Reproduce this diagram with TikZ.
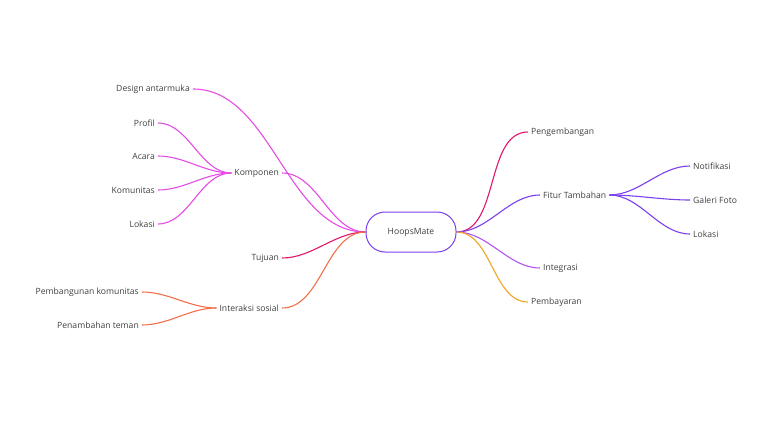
\documentclass[tikz,border=0pt]{standalone}
\usepackage{fontspec}
\setmainfont{Open Sans}
\begin{document}
\begin{tikzpicture}[x=1pt,y=-1pt,
  lbl/.style={font=\fontsize{8.6}{10}\selectfont, text=black!75, inner sep=3pt},
  br/.style={line width=1.1pt, out=0, in=180, looseness=0.9},
  bl/.style={line width=1.1pt, out=180, in=0, looseness=0.9}]
\fill[white] (0,0) rectangle (768,433);
\useasboundingbox (0,0) rectangle (768,433);
\definecolor{cmag}{HTML}{E64CE6}
\definecolor{ccri}{HTML}{E0176B}
\definecolor{cora}{HTML}{F2704A}
\definecolor{cpur}{HTML}{7B3FF0}
\definecolor{clil}{HTML}{B455F0}
\definecolor{cyel}{HTML}{F0A524}
\node[draw=cpur, line width=1pt, rounded corners=19pt, minimum width=90pt, minimum height=40pt, lbl] (c) at (411,232) {HoopsMate};
% left
\node[lbl, anchor=east] (da) at (193,89) {Design antarmuka};
\node[lbl, anchor=east] (ko) at (282,173) {Komponen};
\node[lbl, anchor=east] (pr) at (158,123) {Profil};
\node[lbl, anchor=east] (ac) at (158,156) {Acara};
\node[lbl, anchor=east] (km) at (158,190) {Komunitas};
\node[lbl, anchor=east] (lo) at (158,224) {Lokasi};
\node[lbl, anchor=east] (tu) at (282,258) {Tujuan};
\node[lbl, anchor=east] (is) at (282,308) {Interaksi sosial};
\node[lbl, anchor=east] (pk) at (142,292) {Pembangunan komunitas};
\node[lbl, anchor=east] (pt) at (142,325) {Penambahan teman};
% right
\node[lbl, anchor=west] (pg) at (528,132) {Pengembangan};
\node[lbl, anchor=west] (ft) at (540,195) {Fitur Tambahan};
\node[lbl, anchor=west] (nt) at (690,166) {Notifikasi};
\node[lbl, anchor=west] (gf) at (690,200) {Galeri Foto};
\node[lbl, anchor=west] (lk) at (690,234) {Lokasi};
\node[lbl, anchor=west] (ig) at (540,268) {Integrasi};
\node[lbl, anchor=west] (pb) at (528,302) {Pembayaran};
% connectors
\draw[br, cmag] (da.east) to (c.west);
\draw[br, cmag] (ko.east) to (c.west);
\draw[br, cmag] (pr.east) to (ko.west);
\draw[br, cmag] (ac.east) to (ko.west);
\draw[br, cmag] (km.east) to (ko.west);
\draw[br, cmag] (lo.east) to (ko.west);
\draw[br, ccri] (tu.east) to (c.west);
\draw[br, cora] (is.east) to (c.west);
\draw[br, cora] (pk.east) to (is.west);
\draw[br, cora] (pt.east) to (is.west);
\draw[br, ccri] (c.east) to (pg.west);
\draw[br, cpur] (c.east) to (ft.west);
\draw[br, clil] (c.east) to (ig.west);
\draw[br, cyel] (c.east) to (pb.west);
\draw[br, cpur] (ft.east) to (nt.west);
\draw[br, cpur] (ft.east) to (gf.west);
\draw[br, cpur] (ft.east) to (lk.west);
\end{tikzpicture}
\end{document}
